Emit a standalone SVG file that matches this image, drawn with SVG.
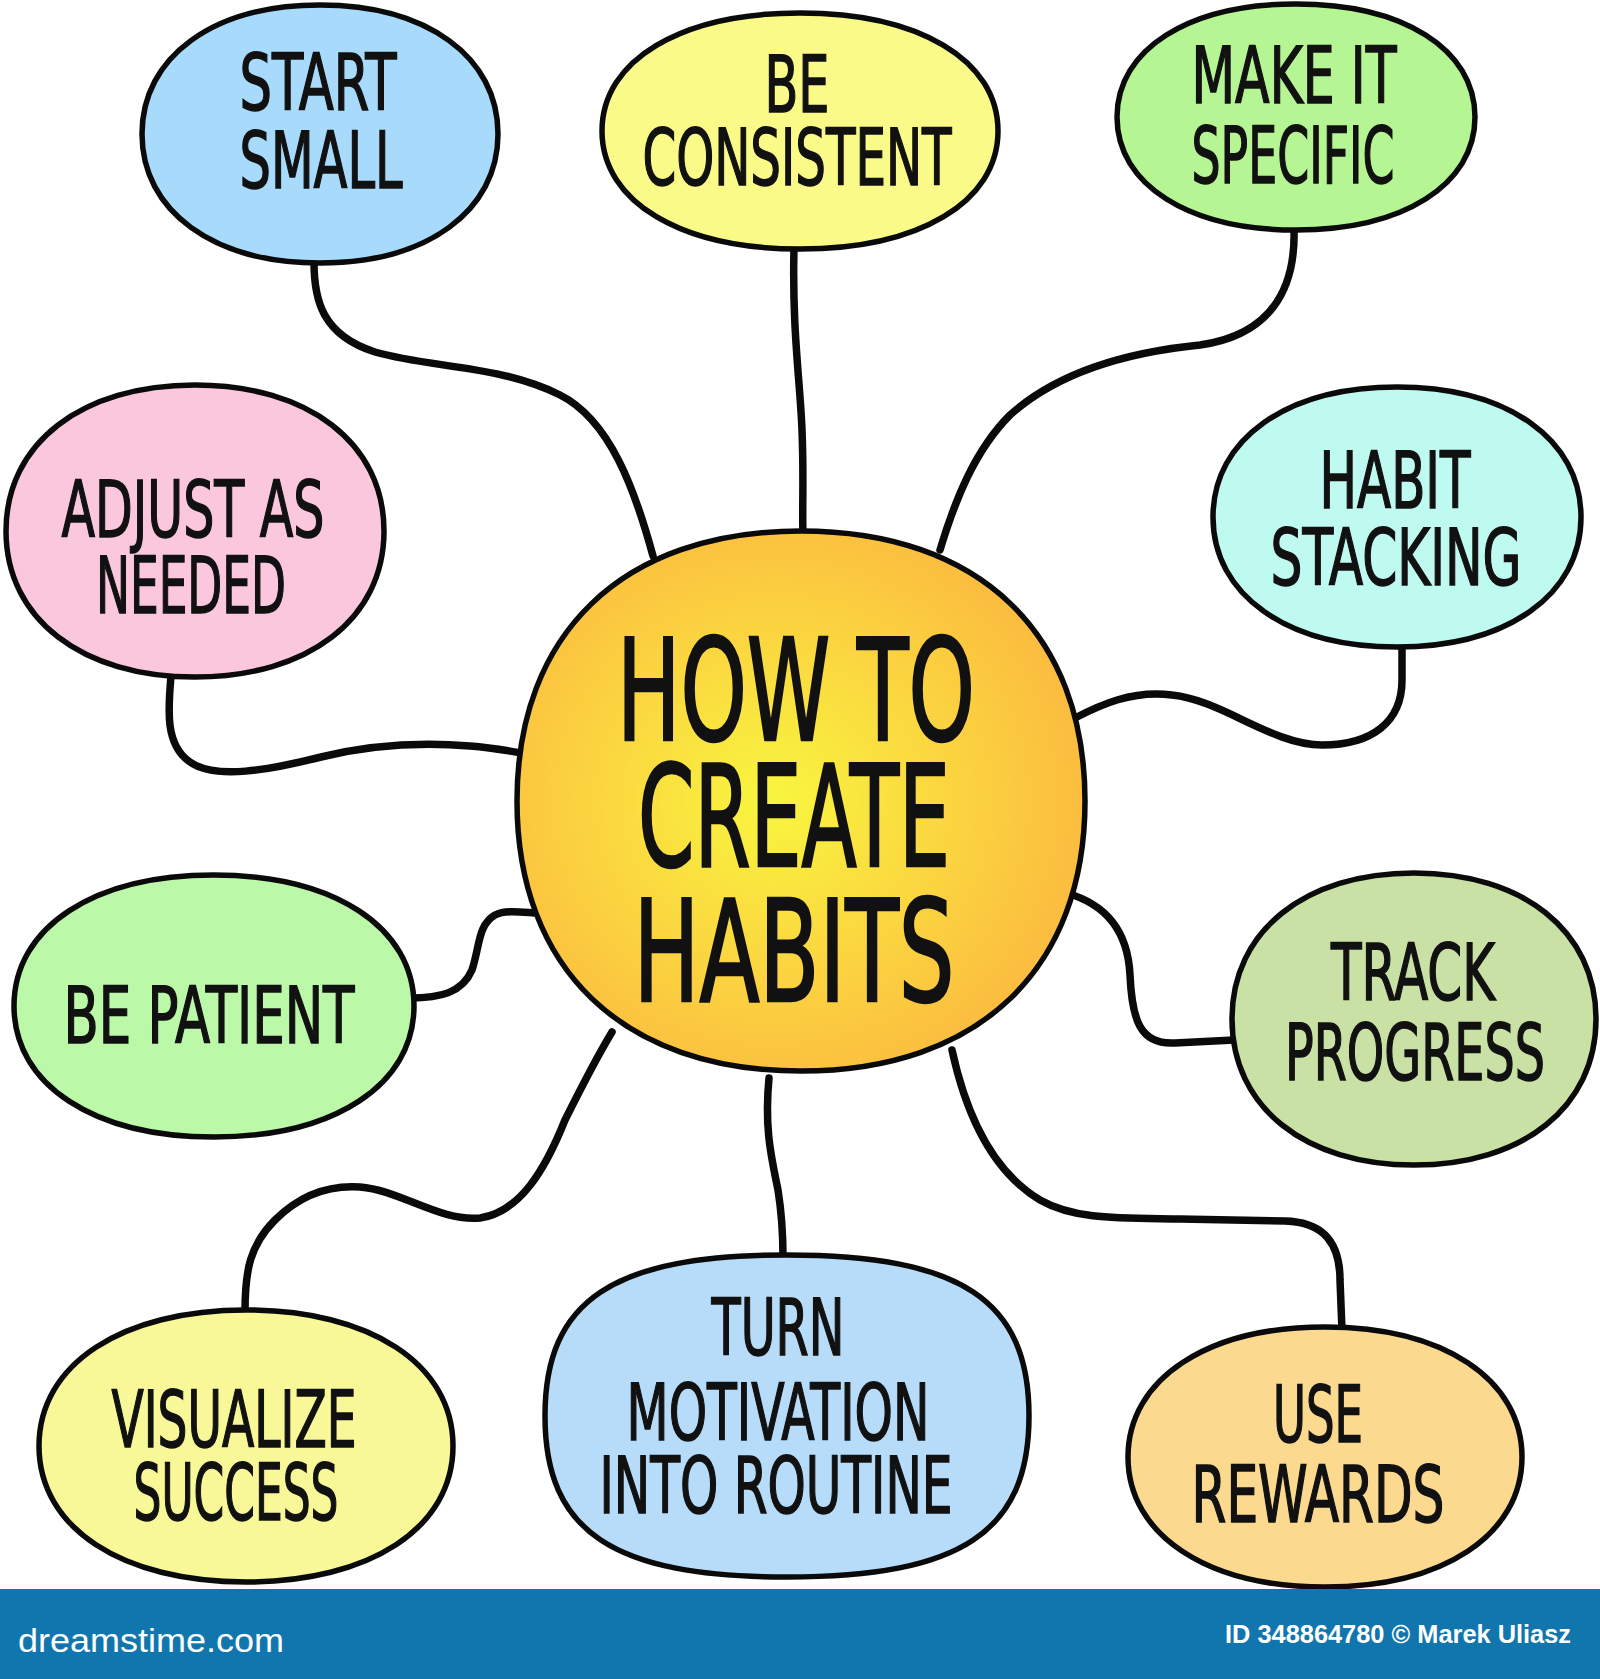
<svg xmlns="http://www.w3.org/2000/svg" width="1600" height="1679" viewBox="0 0 1600 1679">
<defs>
<radialGradient id="centerFill" cx="0.45" cy="0.5" r="0.55">
<stop offset="0" stop-color="#f8f63e"/>
<stop offset="0.55" stop-color="#fbd640"/>
<stop offset="1" stop-color="#fbbd3f"/>
</radialGradient>
</defs>
<style>
.conn{fill:none;stroke:#0a0a0a;stroke-width:7.5;stroke-linecap:round;stroke-linejoin:round}
.blob{stroke:#0a0a0a;stroke-width:5.5;stroke-linejoin:round}
.lbl{font-family:"DejaVu Sans Condensed","Liberation Sans Narrow","Liberation Sans",sans-serif;font-weight:normal;font-size:78px;fill:#111;text-anchor:middle;stroke:#111;stroke-width:1.5}
.big{font-size:140px;stroke-width:2.5}
.ban{font-family:"Liberation Sans","DejaVu Sans",sans-serif;fill:#ffffff}
</style>
<rect width="1600" height="1679" fill="#ffffff"/>
<g id="connectors">
<path class="conn" d="M314,262 C314,300 322,335 375,352 C430,368 500,365 560,395 C610,420 635,490 653,556"/>
<path class="conn" d="M794,248 C792,330 800,380 802,430 C804,480 802,510 803,534"/>
<path class="conn" d="M1294,228 C1296,290 1270,335 1200,345 C1130,352 1060,370 1010,415 C975,450 955,500 940,550"/>
<path class="conn" d="M1402,645 L1402,680 C1402,722 1372,745 1322,745 C1272,745 1222,700 1172,695 C1132,690 1100,705 1075,718"/>
<path class="conn" d="M171,676 C168,710 165,745 190,762 C215,780 270,770 321,757 C370,745 420,742 470,746 C495,748 510,751 527,754"/>
<path class="conn" d="M410,998 C440,998 462,993 472,970 C480,945 478,925 495,915 C505,910 520,912 534,913"/>
<path class="conn" d="M1066,893 C1110,905 1128,935 1130,975 C1132,1020 1140,1045 1175,1043 L1234,1040"/>
<path class="conn" d="M245,1312 C245,1270 250,1245 275,1220 C300,1195 330,1185 360,1187 C400,1190 440,1222 480,1218 C520,1212 545,1170 565,1120 C580,1090 595,1060 612,1032"/>
<path class="conn" d="M769,1078 C764,1130 772,1160 778,1190 C782,1215 783,1235 783,1258"/>
<path class="conn" d="M952,1050 C965,1110 990,1170 1040,1200 C1075,1220 1120,1218 1180,1219 L1285,1221 C1325,1222 1340,1245 1340,1280 L1342,1330"/>
</g>
<g id="node-start-small">
<path class="blob" fill="#a8dbfb" d="M142,134 C142,57 213,5 320,5 C427,5 498,57 498,134 C498,211 427,263 320,263 C213,263 142,211 142,134Z"/>
<text class="lbl" x="318" y="110" textLength="157" lengthAdjust="spacingAndGlyphs">START</text>
<text class="lbl" x="321" y="188" textLength="163" lengthAdjust="spacingAndGlyphs">SMALL</text>
</g>
<g id="node-be-consistent">
<path class="blob" fill="#fafa88" d="M602,131 C602,60 681,13 800,13 C919,13 998,60 998,131 C998,202 919,249 800,249 C681,249 602,202 602,131Z"/>
<text class="lbl" x="797" y="112" textLength="65" lengthAdjust="spacingAndGlyphs">BE</text>
<text class="lbl" x="797" y="185" textLength="309" lengthAdjust="spacingAndGlyphs">CONSISTENT</text>
</g>
<g id="node-make-it-specific">
<path class="blob" fill="#b6f593" d="M1117,117 C1117,49 1189,4 1296,4 C1403,4 1475,49 1475,117 C1475,185 1403,230 1296,230 C1189,230 1117,185 1117,117Z"/>
<text class="lbl" x="1294" y="103" textLength="205" lengthAdjust="spacingAndGlyphs">MAKE IT</text>
<text class="lbl" x="1293" y="183" textLength="203" lengthAdjust="spacingAndGlyphs">SPECIFIC</text>
</g>
<g id="node-adjust-as-needed">
<path class="blob" fill="#fbc7dd" d="M6,531 C6,443 82,385 195,385 C308,385 384,443 384,531 C384,619 308,677 195,677 C82,677 6,619 6,531Z"/>
<text class="lbl" x="193" y="537" textLength="263" lengthAdjust="spacingAndGlyphs">ADJUST AS</text>
<text class="lbl" x="191" y="613" textLength="190" lengthAdjust="spacingAndGlyphs">NEEDED</text>
</g>
<g id="node-habit-stacking">
<path class="blob" fill="#bffaf0" d="M1213,517 C1213,439 1287,387 1397,387 C1507,387 1581,439 1581,517 C1581,595 1507,647 1397,647 C1287,647 1213,595 1213,517Z"/>
<text class="lbl" x="1395" y="508" textLength="151" lengthAdjust="spacingAndGlyphs">HABIT</text>
<text class="lbl" x="1396" y="585" textLength="251" lengthAdjust="spacingAndGlyphs">STACKING</text>
</g>
<g id="node-center">
<path class="blob" fill="url(#centerFill)" stroke-width="7" d="M517,801 C517,634 622,531 801,531 C980,531 1085,634 1085,801 C1085,968 980,1071 801,1071 C622,1071 517,968 517,801Z"/>
<text class="lbl big" x="796" y="740" textLength="358" lengthAdjust="spacingAndGlyphs">HOW TO</text>
<text class="lbl big" x="794" y="866" textLength="312" lengthAdjust="spacingAndGlyphs">CREATE</text>
<text class="lbl big" x="794" y="1001" textLength="321" lengthAdjust="spacingAndGlyphs">HABITS</text>
</g>
<g id="node-be-patient">
<path class="blob" fill="#bbf8a8" d="M14,1006 C14,927 94,875 214,875 C334,875 414,927 414,1006 C414,1085 334,1137 214,1137 C94,1137 14,1085 14,1006Z"/>
<text class="lbl" x="209" y="1043" textLength="291" lengthAdjust="spacingAndGlyphs">BE PATIENT</text>
</g>
<g id="node-track-progress">
<path class="blob" fill="#c9e1a5" d="M1232,1019 C1232,931 1305,873 1414,873 C1523,873 1596,931 1596,1019 C1596,1107 1523,1165 1414,1165 C1305,1165 1232,1107 1232,1019Z"/>
<text class="lbl" x="1413" y="1000" textLength="164" lengthAdjust="spacingAndGlyphs">TRACK</text>
<text class="lbl" x="1415" y="1080" textLength="260" lengthAdjust="spacingAndGlyphs">PROGRESS</text>
</g>
<g id="node-visualize-success">
<path class="blob" fill="#f8f898" d="M39,1446 C39,1364 122,1310 246,1310 C370,1310 453,1364 453,1446 C453,1528 370,1582 246,1582 C122,1582 39,1528 39,1446Z"/>
<text class="lbl" x="234" y="1447" textLength="245" lengthAdjust="spacingAndGlyphs">VISUALIZE</text>
<text class="lbl" x="236" y="1520" textLength="205" lengthAdjust="spacingAndGlyphs">SUCCESS</text>
</g>
<g id="node-turn-motivation">
<path class="blob" fill="#b7dcfa" d="M545,1416 C545,1300 613,1255 787,1255 C961,1255 1029,1300 1029,1416 C1029,1532 961,1577 787,1577 C613,1577 545,1532 545,1416Z"/>
<text class="lbl" x="778" y="1355" textLength="133" lengthAdjust="spacingAndGlyphs">TURN</text>
<text class="lbl" x="778" y="1440" textLength="303" lengthAdjust="spacingAndGlyphs">MOTIVATION</text>
<text class="lbl" x="776" y="1513" textLength="353" lengthAdjust="spacingAndGlyphs">INTO ROUTINE</text>
</g>
<g id="node-use-rewards">
<path class="blob" fill="#fbd98f" d="M1128,1457 C1128,1379 1207,1327 1325,1327 C1443,1327 1522,1379 1522,1457 C1522,1535 1443,1587 1325,1587 C1207,1587 1128,1535 1128,1457Z"/>
<text class="lbl" x="1318" y="1442" textLength="90" lengthAdjust="spacingAndGlyphs">USE</text>
<text class="lbl" x="1318" y="1522" textLength="253" lengthAdjust="spacingAndGlyphs">REWARDS</text>
</g>
<g id="banner">
<rect x="0" y="1589" width="1600" height="90" fill="#1176ad"/>
<text class="ban" x="18" y="1652" font-size="34" textLength="266" lengthAdjust="spacingAndGlyphs">dreamstime.com</text>
<text class="ban" x="1225" y="1643" font-size="25" font-weight="bold" textLength="346" lengthAdjust="spacingAndGlyphs">ID 348864780 © Marek Uliasz</text>
</g>
</svg>
